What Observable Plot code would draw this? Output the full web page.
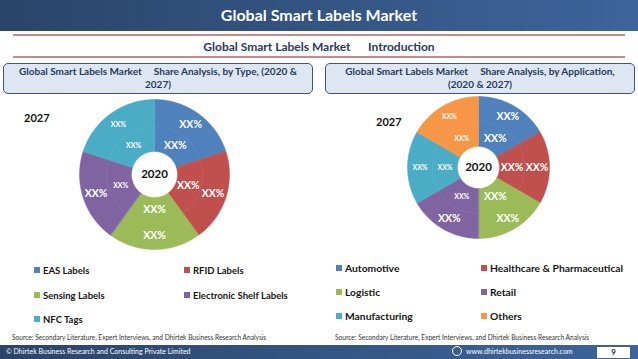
<!DOCTYPE html>
<html><head><meta charset="utf-8">
<script src="https://cdn.jsdelivr.net/npm/d3@7"></script>
<script src="https://cdn.jsdelivr.net/npm/@observablehq/plot@0.6"></script>
<style>
body{margin:0;width:638px;height:359px;position:relative;overflow:hidden;background:#fff;font-family:Lato,"Open Sans",sans-serif;}
.abs{position:absolute;}
.hdr{left:0;top:0;width:638px;height:31px;background:linear-gradient(to right,#2a4469,#3d659c);color:#fff;font-weight:bold;font-size:16px;text-align:center;line-height:30px;}
.rl{left:13px;width:612px;height:2px;background:#c98a87;}
.sub{left:0;width:638px;top:38px;height:17px;text-align:center;font-weight:bold;font-size:12px;color:#1f3a5f;line-height:17px;white-space:pre;}
.box{top:63px;height:28px;border:1.5px solid #3b577f;border-radius:5px;background:#dde6f1;color:#1f3a5f;font-weight:bold;font-size:10px;line-height:13px;text-align:center;white-space:pre;padding-top:1px;}
.yr{font-weight:bold;font-size:11px;color:#111;}
.leg{font-weight:bold;color:#151515;white-space:nowrap;}
.leg span{display:inline-block;width:6px;height:6px;margin-right:3px;vertical-align:1px;}
.src{font-size:6.6px;color:#333;white-space:nowrap;}
.ftr{left:0;top:345px;width:638px;height:14px;background:linear-gradient(to right,#2a4469,#3d659c);}
</style></head>
<body>
<div class="abs hdr">Global Smart Labels Market</div>
<div class="abs rl" style="top:34px"></div>
<div class="abs sub">Global Smart Labels Market      Introduction</div>
<div class="abs rl" style="top:56px"></div>
<div class="abs box" style="left:3px;width:308px">Global Smart Labels Market     Share Analysis, by Type, (2020 &amp;
2027)</div>
<div class="abs box" style="left:325px;width:308px">Global Smart Labels Market     Share Analysis, by Application,
(2020 &amp; 2027)</div>
<div class="abs yr" style="left:24px;top:111px">2027</div>
<div class="abs yr" style="left:376px;top:115px">2027</div>
<div id="c1" class="abs" style="left:0;top:94px"></div>
<div id="c2" class="abs" style="left:320px;top:94px"></div>
<div id="l1"></div><div id="l2"></div>
<div class="abs src" style="left:12px;top:333px">Source: Secondary Literature, Expert Interviews, and Dhirtek Business Research Analysis</div>
<div class="abs src" style="left:335px;top:333px">Source: Secondary Literature, Expert Interviews, and Dhirtek Business Research Analysis</div>
<div class="abs ftr"></div>
<div class="abs" style="left:6px;top:347px;font-size:7px;color:#fff;white-space:nowrap">© Dhirtek Business Research and Consulting Private Limited</div>
<div class="abs" style="left:452px;top:346px;width:10px;height:10px;border-radius:50%;border:1px solid #fff;box-sizing:border-box"></div>
<div class="abs" style="left:466px;top:347px;font-size:7px;color:#fff;white-space:nowrap">www.dhirtekbusinessresearch.com</div>
<div class="abs" style="left:597px;top:347px;width:33px;height:11px;background:#fff;color:#222;font-size:8px;font-weight:bold;text-align:center;line-height:11px">9</div>
<script>
// ---- data ----
const types = ["EAS Labels", "RFID Labels", "Sensing Labels", "Electronic Shelf Labels", "NFC Tags"];
const typeShare2020 = [20, 20, 20, 20, 20];
const typeShare2027 = [20, 20, 20, 20, 20];
const typeLabel2020 = ["XX%", "XX%", "XX%", "xx%", "xx%"];
const typeLabel2027 = ["XX%", "XX%", "XX%", "XX%", "xx%"];
const apps = ["Automotive", "Healthcare & Pharmaceutical", "Logistic", "Retail", "Manufacturing", "Others"];
const appShare2020 = [1, 1, 1, 1, 1, 1];
const appShare2027 = [1, 1, 1, 1, 1, 1];
const appLabel2020 = ["XX%", "XX%", "XX%", "xx%", "xx%", "xx%"];
const appLabel2027 = ["XX%", "XX%", "XX%", "XX%", "xx%", "xx%"];
const palette = ["#4f81bd", "#c0504d", "#9bbb59", "#8064a2", "#4bacc6", "#f79646"];

function ringData(cats, vals, labels, r0, r1, ring) {
  const arcs = d3.pie().sort(null).startAngle(0).endAngle(2 * Math.PI)(vals);
  const pts = [], lab = [];
  arcs.forEach((a, i) => {
    const n = 40;
    const key = ring + i;
    for (let k = 0; k <= n; k++) {
      const t = a.startAngle + (a.endAngle - a.startAngle) * k / n;
      pts.push({key, cat: cats[i], x: r1 * Math.sin(t), y: r1 * Math.cos(t)});
    }
    for (let k = n; k >= 0; k--) {
      const t = a.startAngle + (a.endAngle - a.startAngle) * k / n;
      pts.push({key, cat: cats[i], x: r0 * Math.sin(t), y: r0 * Math.cos(t)});
    }
    const m = (a.startAngle + a.endAngle) / 2, rm = (r0 + r1) / 2;
    lab.push({text: labels[i].toUpperCase(), small: labels[i] === "xx%", x: rm * Math.sin(m), y: rm * Math.cos(m)});
  });
  return {pts, lab};
}

function donut(cats, s20, s27, l20, l27, geom) {
  const {r0, r1, r2, xd, yd} = geom;
  const inner = ringData(cats, s20, l20, r0, r1, "a");
  const outer = ringData(cats, s27, l27, r1, r2, "b");
  const labs = inner.lab.concat(outer.lab);
  return Plot.plot({
    width: 318, height: 160, margin: 0,
    x: {domain: xd, axis: null}, y: {domain: yd, axis: null},
    color: {domain: cats, range: palette.slice(0, cats.length)},
    style: {background: "transparent", fontFamily: "Lato, sans-serif"},
    marks: [
      Plot.line(inner.pts.concat(outer.pts), {x: "x", y: "y", z: "key", fill: "cat", stroke: "cat", strokeWidth: 0.5, curve: "linear-closed"}),
      Plot.text(labs, {x: "x", y: "y", text: "text", fill: "white", fontWeight: "bold", fontSize: d => d.small ? 7 : 10.5}),
      Plot.text(["2020"], {x: [0], y: [0], text: d => d, fill: "#111", fontWeight: "bold", fontSize: 11.5})
    ]
  });
}

document.getElementById("c1").append(donut(types, typeShare2020, typeShare2027, typeLabel2020, typeLabel2027,
  {r0: 23, r1: 48, r2: 75, xd: [-154, 164], yd: [-80, 80]}));
document.getElementById("c2").append(donut(apps, appShare2020, appShare2027, appLabel2020, appLabel2027,
  {r0: 21, r1: 46, r2: 71, xd: [-158, 160], yd: [-87, 73]}));

function legend(id, cats, cols, rows, fontSize) {
  const el = document.getElementById(id);
  cats.forEach((c, i) => {
    const d = document.createElement("div");
    d.className = "abs leg";
    d.style.left = cols[i % 2] + "px";
    d.style.top = rows[Math.floor(i / 2)] + "px";
    d.style.fontSize = fontSize + "px";
    d.innerHTML = `<span style="background:${palette[i]}"></span>`;
    d.append(c);
    el.append(d);
  });
}
legend("l1", types, [34, 184], [265, 290, 314], 9.5);
legend("l2", apps, [336, 481], [262, 286, 310], 10.3);
</script>
</body></html>
